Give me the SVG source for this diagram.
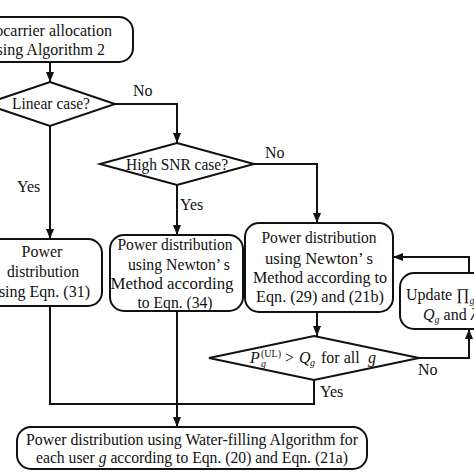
<svg xmlns="http://www.w3.org/2000/svg" width="474" height="474" viewBox="0 0 474 474">
<style>
.b{fill:#fff;stroke:#111;stroke-width:2}
.c{fill:none;stroke:#111;stroke-width:2}
text{font-family:"Liberation Serif","Times New Roman",serif;font-size:16px;fill:#111}
.m{text-anchor:middle}
.i{font-style:italic}
.s{font-size:10px}
</style>
<defs>
<marker id="ah" markerUnits="userSpaceOnUse" markerWidth="10" markerHeight="8" refX="10" refY="4" orient="auto"><path d="M0,0 L10,4 L0,8 z" fill="#111"/></marker>
</defs>
<rect width="474" height="474" fill="#fff"/>
<g id="connectors">
<path class="c" d="M50,62 V82" marker-end="url(#ah)"/>
<path class="c" d="M50,126 V239" marker-end="url(#ah)"/>
<path class="c" d="M115,104 H177 V143" marker-end="url(#ah)"/>
<path class="c" d="M177,185 V235" marker-end="url(#ah)"/>
<path class="c" d="M254,164 H317 V223" marker-end="url(#ah)"/>
<path class="c" d="M317,312 V336" marker-end="url(#ah)"/>
<path class="c" d="M419,358 H469 V329" marker-end="url(#ah)"/>
<path class="c" d="M469,273 V257 H393" marker-end="url(#ah)"/>
<path class="c" d="M50,306 V404 H314 V380"/>
<path class="c" d="M177,311 V427" marker-end="url(#ah)"/>
<text x="133" y="96">No</text>
<text x="17" y="192">Yes</text>
<text x="265" y="158">No</text>
<text x="180" y="210">Yes</text>
<text x="418" y="375">No</text>
<text x="320" y="397">Yes</text>
</g>
<g id="start">
<rect class="b" x="-30" y="17" width="163" height="45" rx="14"/>
<text x="112" y="36" text-anchor="end">Subcarrier allocation</text>
<text x="105" y="55" text-anchor="end">using Algorithm 2</text>
</g>
<g id="linear">
<polygon class="b" points="50,82 115,104 50,126 -15,104"/>
<text class="m" x="51" y="109" textLength="78" lengthAdjust="spacingAndGlyphs">Linear case?</text>
</g>
<g id="highsnr">
<polygon class="b" points="177,143 254,164 177,185 100,164"/>
<text class="m" x="177" y="170" textLength="102" lengthAdjust="spacingAndGlyphs">High SNR case?</text>
</g>
<g id="box31">
<rect class="b" x="-30" y="239" width="132" height="67" rx="14"/>
<text class="m" x="42" y="257">Power</text>
<text class="m" x="43" y="277" textLength="72" lengthAdjust="spacingAndGlyphs">distribution</text>
<text x="90" y="297" text-anchor="end">using Eqn. (31)</text>
</g>
<g id="box34">
<rect class="b" x="110" y="235" width="133" height="76" rx="14"/>
<text class="m" x="175" y="250" textLength="115" lengthAdjust="spacingAndGlyphs">Power distribution</text>
<text class="m" x="179" y="270" textLength="102" lengthAdjust="spacingAndGlyphs">using Newton’ s</text>
<text class="m" x="172" y="289" textLength="123" lengthAdjust="spacingAndGlyphs">Method  according</text>
<text class="m" x="175" y="308" textLength="75" lengthAdjust="spacingAndGlyphs">to Eqn. (34)</text>
</g>
<g id="box29">
<rect class="b" x="245" y="223" width="148" height="89" rx="14"/>
<text class="m" x="319" y="243" textLength="115" lengthAdjust="spacingAndGlyphs">Power distribution</text>
<text class="m" x="319" y="264" textLength="108" lengthAdjust="spacingAndGlyphs">using Newton’ s</text>
<text class="m" x="320" y="283" textLength="134" lengthAdjust="spacingAndGlyphs">Method  according to</text>
<text class="m" x="320" y="302" textLength="128" lengthAdjust="spacingAndGlyphs">Eqn. (29) and (21b)</text>
</g>
<g id="update">
<rect class="b" x="400" y="273" width="110" height="56" rx="14"/>
<text x="406" y="300">Update ∏<tspan class="i s" dy="4">g</tspan></text>
<text x="423" y="320"><tspan class="i">Q</tspan><tspan class="i s" dy="3">g</tspan><tspan dy="-3"> and </tspan><tspan class="i">λ</tspan></text>
</g>
<g id="check">
<polygon class="b" points="314,336 419,358 314,380 209,358"/>
<text x="250" y="363"><tspan class="i">P</tspan><tspan class="s" x="261" y="357">(UL)</tspan><tspan class="i s" x="261" y="367">g</tspan><tspan x="285" y="363">&gt;</tspan><tspan class="i" x="299">Q</tspan><tspan class="i s" x="310" y="366">g</tspan><tspan x="321" y="363">for all</tspan><tspan class="i" x="368">g</tspan></text>
</g>
<g id="waterfill">
<rect class="b" x="17" y="427" width="350" height="42" rx="14"/>
<text class="m" x="192" y="445" textLength="332" lengthAdjust="spacingAndGlyphs">Power distribution using Water-filling Algorithm for</text>
<text class="m" x="192" y="463" textLength="312" lengthAdjust="spacingAndGlyphs">each user <tspan class="i">g</tspan> according to Eqn. (20) and Eqn. (21a)</text>
</g>
</svg>
